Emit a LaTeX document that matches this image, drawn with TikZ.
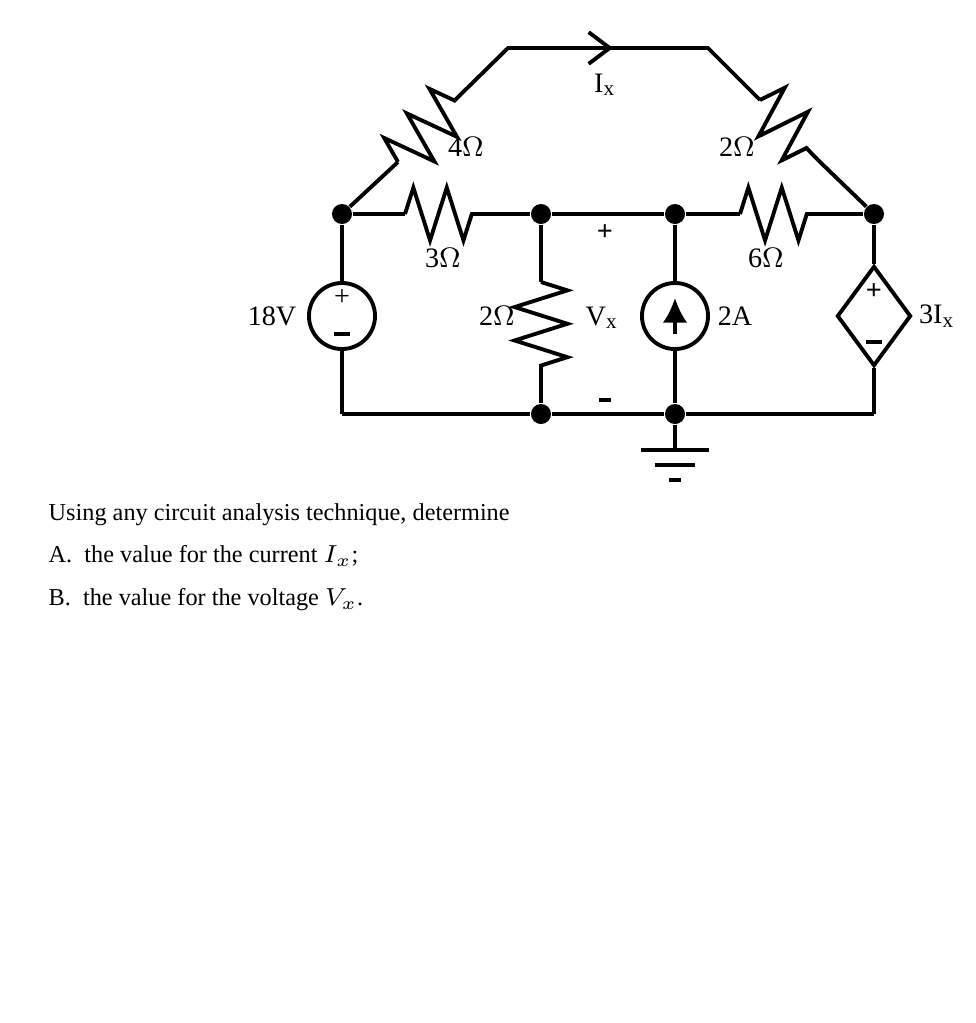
\documentclass[tikz,border=0pt]{standalone}
\usepackage{fontspec}
\setmainfont{Liberation Serif}
\usetikzlibrary{decorations.pathmorphing,arrows.meta,shapes.geometric}
\begin{document}
\begin{tikzpicture}[x=0.01cm,y=-0.01cm,
  w/.style={line width=1.1pt},
  res/.style={w,decorate,decoration={zigzag,segment length=9.5,amplitude=7.5}},
  dot/.style={circle,fill=black,inner sep=0pt,minimum size=0.2cm},
  lbl/.style={font=\fontsize{8}{9}\selectfont},
  txt/.style={font=\fontsize{6.9}{8}\selectfont,anchor=west,inner sep=0pt}]
\useasboundingbox (0,0) rectangle (976,1023);
\node[dot] (a) at (342,214) {};
\node[dot] (b) at (541,214) {};
\node[dot] (c) at (675,214) {};
\node[dot] (d) at (874,214) {};
\node[dot] (e) at (541,414) {};
\node[dot] (f) at (675,414) {};
\coordinate (g) at (342,414);
\coordinate (h) at (874,414);
\coordinate (t1) at (508,48);
\coordinate (t2) at (708,48);
\coordinate (l1) at (398,162);
\coordinate (l2) at (455,100);
\coordinate (r1) at (760,100);
\coordinate (r2) at (818,160);
% top branch
\draw[w] (a) -- (l1);
\draw[res] (l1) -- (l2);
\draw[w] (l2) -- (t1) -- (t2) -- (r1);
\draw[res] (r1) -- (r2);
\draw[w] (r2) -- (d);
\draw[w,-{Straight Barb[length=6pt,width=9pt]}] (t1) -- (613,48);
% middle wires
\draw[w] (a) -- (405,214);
\draw[res] (405,214) -- (482,214);
\draw[w] (482,214) -- (b) -- (c) -- (740,214);
\draw[res] (740,214) -- (817,214);
\draw[w] (817,214) -- (d);
% bottom
\draw[w] (g) -- (e) -- (f) -- (h);
% 18V source
\node[circle,draw,w,minimum size=0.66cm,inner sep=0pt] (vs) at (342,316) {};
\draw[w] (a) -- (vs.north);
\draw[w] (vs.south) -- (g);
\node[lbl] at (342,298) {+};
\draw[line width=0.9pt] (334,334) -- (350,334);
\node[lbl] (l18) at (272,316) {18V};
% 2 ohm vertical
\draw[w] (b) -- (541,282);
\draw[res] (541,282) -- (541,372);
\draw[w] (541,372) -- (e);
\node[lbl] (l2o) at (497,316) {2$\Omega$};
% current source
\node[circle,draw,w,minimum size=0.66cm,inner sep=0pt] (cs) at (675,316) {};
\draw[w] (c) -- (cs.north);
\draw[w] (cs.south) -- (f);
\draw[line width=1pt,-{Latex[length=7pt,width=7pt]}] (675,334) -- (675,298);
\node[lbl] (l2a) at (735,316) {2A};
% dependent source
\node[diamond,draw,w,minimum width=0.74cm,minimum height=1cm,inner sep=0pt] (ds) at (874,316) {};
\draw[w] (d) -- (ds.north);
\draw[w] (ds.south) -- (h);
\node[lbl] at (874,292) {\textbf{+}};
\draw[line width=1.1pt] (866,342) -- (882,342);
\node[lbl] (l3i) at (937,316) {3I\textsubscript{x}};
% Vx
\node[lbl] at (605,233) {\textbf{+}};
\node[lbl] at (602,318) {V\textsubscript{x}};
\draw[line width=1.1pt] (599,400) -- (611,400);
% ground
\draw[w] (f) -- (675,450);
\draw[w] (641,450) -- (709,450);
\draw[w] (655,465) -- (695,465);
\draw[w] (669,480) -- (681,480);
% labels
\node[lbl] at (605,85) {I\textsubscript{x}};
\node[lbl] at (466,147) {4$\Omega$};
\node[lbl] at (737,147) {2$\Omega$};
\node[lbl] at (443,258) {3$\Omega$};
\node[lbl] at (766,258) {6$\Omega$};
% text
\node[txt] at (48,515) {Using any circuit analysis technique, determine};
\node[txt] at (48,556) {A.\ \ the value for the current $I_x$;};
\node[txt] at (48,600) {B.\ \ the value for the voltage $V_x$.};
\end{tikzpicture}
\end{document}
